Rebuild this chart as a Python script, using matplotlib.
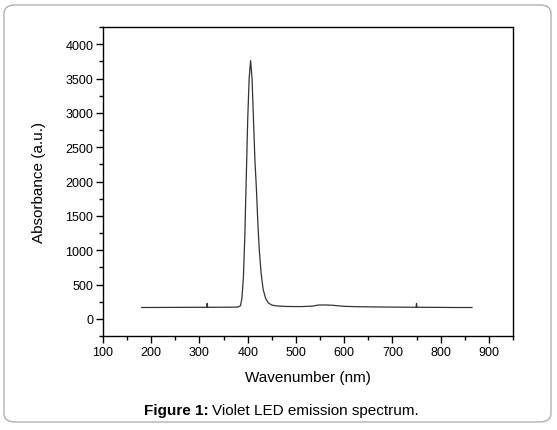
import matplotlib
matplotlib.use("Agg")
import matplotlib.pyplot as plt
from matplotlib.patches import FancyBboxPatch
from matplotlib.ticker import MultipleLocator

plt.rcParams['font.family'] = ['Liberation Sans', 'DejaVu Sans']

# spectrum (nm, counts)
wavelength = [180, 220, 260, 300, 315, 316, 317, 340, 370, 380, 385, 388, 391,
              394, 397, 400, 403, 406, 409, 412, 415, 418, 421, 424, 428, 432,
              437, 443, 450, 460, 480, 510, 535, 545, 560, 575, 590, 600, 630,
              680, 720, 749, 750, 751, 790, 830, 865]
absorb = [165, 166, 167, 168, 168, 225, 168, 169, 170, 172, 190, 300, 600,
          1200, 2050, 2900, 3500, 3760, 3500, 2900, 2300, 1900, 1400, 1000,
          650, 430, 300, 230, 200, 188, 180, 178, 185, 200, 202, 198, 188, 182,
          176, 172, 170, 168, 225, 168, 167, 165, 165]

xticks = [100, 200, 300, 400, 500, 600, 700, 800, 900]
yticks = [0, 500, 1000, 1500, 2000, 2500, 3000, 3500, 4000]

fig = plt.figure(figsize=(5.57, 4.31), dpi=100)
border = FancyBboxPatch((4 / 557, 8 / 431), 547 / 557, 417 / 431,
                        boxstyle="round,pad=0,rounding_size=0.02",
                        transform=fig.transFigure, fill=False,
                        edgecolor='#b0b0b0', lw=1.0)
fig.patches.append(border)

ax = fig.add_axes([103 / 557, 1 - 337 / 431, 410 / 557, 309 / 431])
ax.plot(wavelength, absorb, color='#333333', lw=0.9)
ax.set_xlim(100, 950)
ax.set_ylim(-250, 4250)
ax.set_xticks(xticks)
ax.set_yticks(yticks)
ax.xaxis.set_minor_locator(MultipleLocator(50))
ax.yaxis.set_minor_locator(MultipleLocator(250))
ax.tick_params(which='major', direction='out', length=5, width=1, labelsize=9, pad=2)
ax.tick_params(which='minor', direction='out', length=3, width=1)
ax.tick_params(top=False, right=False, which='both')
for s in ax.spines.values():
    s.set_linewidth(1.0)
ax.set_xlabel('Wavenumber (nm)', fontsize=11, labelpad=9)
ax.set_ylabel('Absorbance (a.u.)', fontsize=11, labelpad=14)

# caption: bold part, then normal part right after it
t1 = fig.text(144 / 557, 1 - 411 / 431, 'Figure 1:', fontsize=11,
              fontweight='bold', va='center', ha='left')
fig.canvas.draw()
bb = t1.get_window_extent()
fig.text((bb.x1 + 3) / 557, 1 - 411 / 431, 'Violet LED emission spectrum.',
         fontsize=11, va='center', ha='left')

fig.savefig('out.png', dpi=100)
